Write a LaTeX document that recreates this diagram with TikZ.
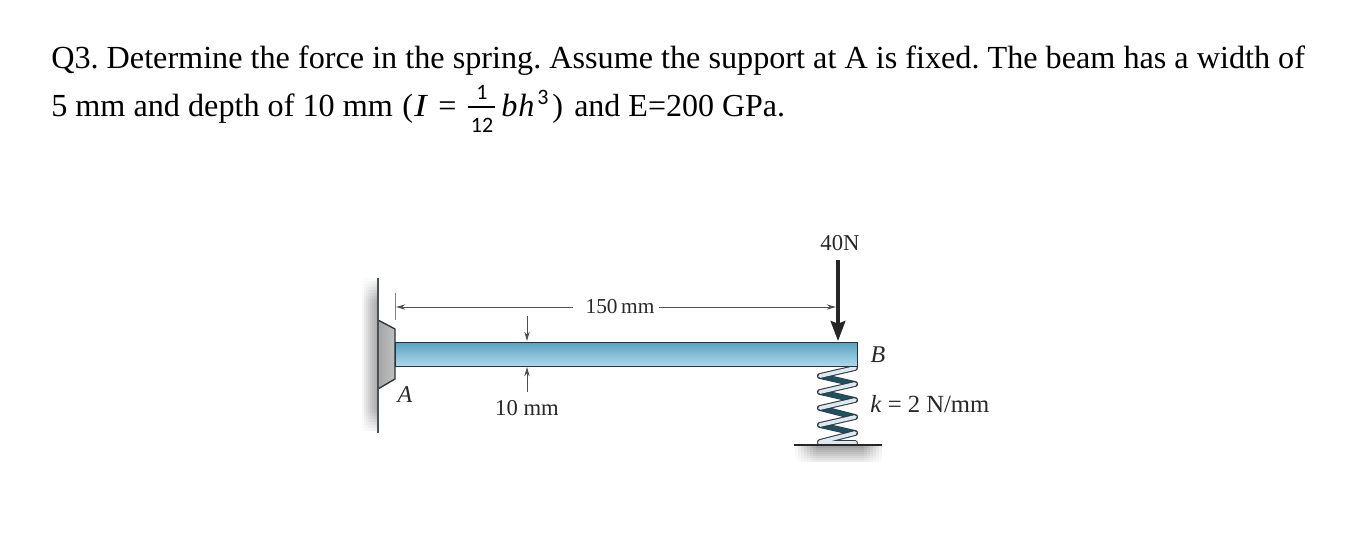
\documentclass[tikz,border=0pt]{standalone}
\usepackage{fontspec}
\setmainfont{Liberation Serif}
\newfontfamily\fracfont{Carlito}
\usetikzlibrary{arrows.meta,shadings,calc}
\definecolor{beamtop}{RGB}{88,160,192}
\definecolor{beambot}{RGB}{176,216,236}
\definecolor{edge}{RGB}{38,52,60}
\definecolor{teal}{RGB}{30,80,98}
\definecolor{coillight}{RGB}{222,232,240}
\definecolor{coilline}{RGB}{50,58,64}
\definecolor{dimc}{RGB}{80,80,80}
\definecolor{txt}{RGB}{40,40,40}
\frenchspacing
\tikzset{
  x=0.75pt,y=-0.75pt,
  headline/.style={inner sep=0pt,anchor=base west,font=\fontsize{24.15pt}{28pt}\selectfont,text=black},
  fracnum/.style={inner sep=0pt,font=\fracfont\fontsize{16.5pt}{17pt}\selectfont,text=black},
  label/.style={inner sep=0pt,anchor=center,font=\fontsize{17pt}{20pt}\selectfont,text=txt},
  dimline/.style={draw=dimc,line width=0.7pt},
  dimarrow/.style={dimline,-{Stealth[length=7pt,width=4pt]}},
  coilout/.style={draw=coilline,line width=4.4pt,line cap=round},
  coilin/.style={draw=coillight,line width=2.8pt,line cap=round},
  coildark/.style={draw=teal,line width=3.4pt,line cap=butt},
}
\begin{document}
\begin{tikzpicture}
\useasboundingbox (0,0) rectangle (1347,536);
\fill[white] (0,0) rectangle (1347,536);
% text
\node[headline] (line1) at (51,68) {Q3. Determine the force in the spring. Assume the support at A is fixed. The beam has a width of};
\node[headline] (line2a) at (51,116) {5 mm and depth of 10 mm};
\node[headline] (paren) at (402,116) {(};
\node[headline,xscale=1.15] (ivar) at (414,116) {\textit{I}};
\node[headline] (eq) at (438,116) {=};
\node[fracnum] (fnum) at (482,92) {1};
\node[fracnum] (fden) at (482,125) {12};
\draw[line width=1.3pt] (468,107) -- (495,107);
\node[headline] (bb) at (501,116) {\textit{b}};
\node[headline] (hh) at (518,116) {\textit{h}};
\node[fracnum] (cube) at (543,97) {3};
\node[headline] (close) at (552,116) {)};
\node[headline,font=\fontsize{24pt}{28pt}\selectfont] (line2d) at (574,116) {and E=200 GPa.};
% wall shadow
\foreach \xx in {362,364,...,376}{
  \foreach \yy in {278,281,...,430}{
    \pgfmathsetmacro{\amt}{68*((\xx-361)/16)^0.8*min(1,min((\yy-276)/24,(433-\yy)/24))}
    \fill[gray!\amt] (\xx,\yy) rectangle (\xx+2.4,\yy+3.4);
  }
}
% ground shadow
\foreach \xx in {795,798,...,880}{
  \foreach \yy in {446,448,...,460}{
    \pgfmathsetmacro{\amt}{72*((463-\yy)/17)^0.9*min(1,min((\xx-793)/22,(883-\xx)/22))}
    \fill[gray!\amt] (\xx,\yy) rectangle (\xx+3.4,\yy+2.4);
  }
}
% support
\shade[left color=gray!70,right color=gray!50] (378,320) -- (395,329) -- (395,379) -- (378,389) -- cycle;
\draw[edge,line width=1pt] (378,320) -- (395,329) -- (395,379) -- (378,389);
\draw[edge!85,line width=1.2pt] (378,278) -- (378,433);
% spring dark coils, outline
\draw[coilout] (820,376) -- (855,384);
\draw[coilout] (820,392) -- (855,400);
\draw[coilout] (820,408) -- (855,417);
\draw[coilout] (820,425) -- (855,433);
\draw[coildark] (820,376) -- (855,384);
\draw[coildark] (820,392) -- (855,400);
\draw[coildark] (820,408) -- (855,417);
\draw[coildark] (820,425) -- (855,433);
% spring light coils
\draw[coilout] (855,368) -- (820,376);
\draw[coilout] (855,384) -- (820,392);
\draw[coilout] (855,400) -- (820,408);
\draw[coilout] (855,417) -- (820,425);
\draw[coilout] (855,433) -- (820,442);
\draw[coilout] (820,443) -- (855,443);
\draw[coilin] (855,368) -- (820,376);
\draw[coilin] (855,384) -- (820,392);
\draw[coilin] (855,400) -- (820,408);
\draw[coilin] (855,417) -- (820,425);
\draw[coilin] (855,433) -- (820,442);
\draw[coilin] (820,443) -- (855,443);
% beam
\shade[top color=beamtop,bottom color=beambot] (395,342) rectangle (857,366);
\node[draw=edge,line width=1pt,inner sep=0pt,minimum width=346.5pt,minimum height=18pt,anchor=north west] (beam) at (395,342) {};
% ground
\draw[gray!30!black,line width=1.2pt] (794,445) -- (882,445);
% dimensions
\coordinate (tickA) at (395,293);
\coordinate (tickB) at (395,320);
\draw[dimline,draw=gray] (tickA) -- (tickB);
\node[label,font=\fontsize{16pt}{20pt}\selectfont] (d150) at (620,307) {150\,mm};
\coordinate (dimL) at (396,307);
\coordinate (dimR) at (836,307);
\draw[dimarrow] ([xshift=-9pt]d150.west) -- (dimL);
\draw[dimarrow] ([xshift=3pt]d150.east) -- (dimR);
\coordinate (t10a) at (527,316);
\coordinate (t10b) at (527,341);
\coordinate (b10a) at (527,392);
\coordinate (b10b) at (527,367);
\draw[dimarrow] (t10a) -- (t10b);
\draw[dimarrow] (b10a) -- (b10b);
\node[label] (d10) at (527,408) {10 mm};
% load
\node[label] (f40) at (840,243) {40N};
\coordinate (loadT) at (838,260);
\coordinate (loadB) at (838,341);
\draw[black!85,line width=2.3pt,-{Stealth[length=15pt,width=11pt,inset=2pt]}] (loadT) -- (loadB);
% labels
\node[label,font=\fontsize{18pt}{20pt}\selectfont\itshape] (A) at (405,395) {A};
\node[label,font=\fontsize{18pt}{20pt}\selectfont\itshape] (B) at (878,355) {B};
\node[label,anchor=west,font=\fontsize{18.5pt}{20pt}\selectfont] (k) at (870,404) {\textit{k} = 2 N/mm};
\end{tikzpicture}
\end{document}
